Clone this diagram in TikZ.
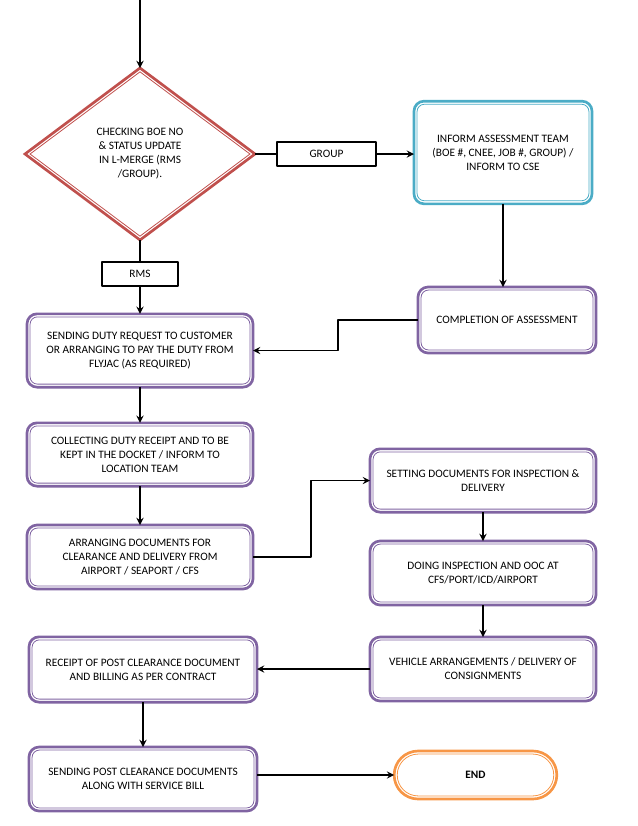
\documentclass[tikz,border=0pt]{standalone}
\usepackage{fontspec}
\setmainfont{Carlito}
\usetikzlibrary{shapes.geometric,calc}
\definecolor{boxpurple}{HTML}{8064A2}
\definecolor{boxteal}{HTML}{4BACC6}
\definecolor{boxred}{HTML}{C0504D}
\definecolor{boxorange}{HTML}{F79646}
\tikzset{
  stepbox/.style={draw=boxpurple, line width=2pt, rounded corners=7.5pt, outer sep=0pt, align=center, inner sep=2pt, minimum width=169.5pt},
  inbox/.style={line width=0.6pt, rounded corners=5.5pt},
  labelbox/.style={draw=black, line width=1.5pt, outer sep=0pt, minimum height=18pt},
  flow/.style={line width=1.4pt, ->}
}
\begin{document}
\begin{tikzpicture}[x=0.75pt, y=-0.75pt, font=\fontsize{8.5}{10.5}\selectfont, line join=round, >=stealth]
    \useasboundingbox (0,0) rectangle (638,826);
    % decision and its two branches
    \node[diamond, draw=boxred, line width=2pt, line join=miter, outer sep=0pt, minimum width=172.5pt, minimum height=129pt, align=center, inner sep=0pt] (check) at (140,154) {CHECKING BOE NO\\ \& STATUS UPDATE\\ IN L-MERGE (RMS\\ /GROUP).};
    \node[labelbox, minimum width=74pt] (group) at (326.5,154) {GROUP};
    \node[labelbox, minimum width=57pt] (rms) at (140,274) {RMS};
    \node[stepbox, draw=boxteal, minimum width=133.5pt, minimum height=77pt] (inform) at (503,152.5) {INFORM ASSESSMENT TEAM\\ (BOE \#, CNEE, JOB \#, GROUP) /\\ INFORM TO CSE};
    \node[stepbox, minimum width=133.5pt, minimum height=49.5pt] (compl) at (507,320) {COMPLETION OF ASSESSMENT};
    % left column
    \node[stepbox, minimum height=55pt] (send) at (140,350.5) {SENDING DUTY REQUEST TO CUSTOMER\\ OR ARRANGING TO PAY THE DUTY FROM\\ FLYJAC (AS REQUIRED)};
    \node[stepbox, minimum height=47.5pt] (collect) at (140,454.5) {COLLECTING DUTY RECEIPT AND TO BE\\ KEPT IN THE DOCKET / INFORM TO\\ LOCATION TEAM};
    \node[stepbox, minimum height=48pt] (arrange) at (140,557) {ARRANGING DOCUMENTS FOR\\ CLEARANCE AND DELIVERY FROM\\ AIRPORT / SEAPORT / CFS};
    % right column
    \node[stepbox, minimum height=47.5pt] (setting) at (483,480.5) {SETTING DOCUMENTS FOR INSPECTION \&\\ DELIVERY};
    \node[stepbox, minimum height=48pt] (doing) at (483,573) {DOING INSPECTION AND OOC AT\\ CFS/PORT/ICD/AIRPORT};
    \node[stepbox, minimum height=48pt] (vehicle) at (483,669) {VEHICLE ARRANGEMENTS / DELIVERY OF\\ CONSIGNMENTS};
    % bottom
    \node[stepbox, minimum width=171pt, minimum height=49pt] (receipt) at (143,669.5) {RECEIPT OF POST CLEARANCE DOCUMENT\\ AND BILLING AS PER CONTRACT};
    \node[stepbox, minimum width=171pt, minimum height=48pt] (post) at (143,779) {SENDING POST CLEARANCE DOCUMENTS\\ ALONG WITH SERVICE BILL};
    \node[stepbox, draw=boxorange, rounded corners=18pt, minimum width=122pt, minimum height=36pt, font=\fontsize{8.5}{10.5}\selectfont\bfseries] (finish) at (475.5,775) {END};
    % inner lines of the double borders
    \foreach \n in {send,collect,arrange,compl,setting,doing,vehicle,receipt,post}
        \draw[inbox, boxpurple] ($(\n.south west)+(2.3pt,2.3pt)$) rectangle ($(\n.north east)-(2.3pt,2.3pt)$);
    \draw[inbox, boxteal] ($(inform.south west)+(2.3pt,2.3pt)$) rectangle ($(inform.north east)-(2.3pt,2.3pt)$);
    \draw[inbox, boxorange, rounded corners=15.7pt] ($(finish.south west)+(2.3pt,2.3pt)$) rectangle ($(finish.north east)-(2.3pt,2.3pt)$);
    \draw[boxred, line width=0.6pt, line join=miter] ($(check.north)+(0,-2.9pt)$) -- ($(check.east)+(-3.8pt,0)$) -- ($(check.south)+(0,2.9pt)$) -- ($(check.west)+(3.8pt,0)$) -- cycle;
    % connectors
    \coordinate (top) at (140,0);
    \draw[flow] (top) -- (check.north);
    \draw[line width=1.4pt] (check.east) -- (group.west);
    \draw[flow] (group.east) -- (group.east -| inform.west);
    \draw[line width=1.4pt] (check.south) -- (rms.north);
    \draw[flow] (rms.south) -- (send.north);
    \draw[flow] (inform.south) -- (inform.south |- compl.north);
    \draw[flow] (compl.west) -- ++(-80,0) |- (send.east);
    \draw[flow] (send.south) -- (collect.north);
    \draw[flow] (collect.south) -- (arrange.north);
    \draw[flow] (arrange.east) -- ++(58,0) |- (setting.west);
    \draw[flow] (setting.south) -- (doing.north);
    \draw[flow] (doing.south) -- (vehicle.north);
    \draw[flow] (vehicle.west) -- (vehicle.west -| receipt.east);
    \draw[flow] (receipt.south) -- (receipt.south |- post.north);
    \draw[flow] (finish.west -| post.east) -- (finish.west);
\end{tikzpicture}
\end{document}
